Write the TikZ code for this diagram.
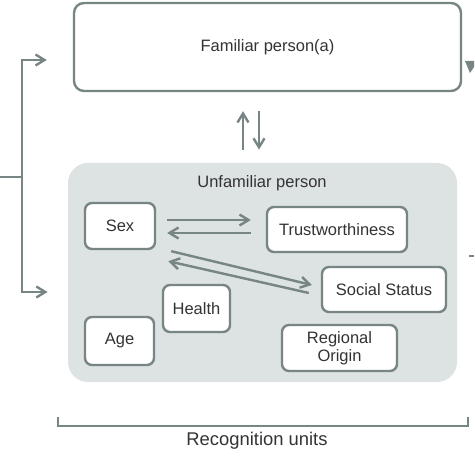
\documentclass[tikz,border=0pt]{standalone}
\usepackage{fontspec}
\setmainfont{Liberation Sans}
\usetikzlibrary{arrows.meta,calc}
\definecolor{grisLinea}{HTML}{778585}
\definecolor{grisFondo}{HTML}{DDE2E2}
\definecolor{grisTexto}{HTML}{333333}

\begin{document}
\begin{tikzpicture}[x=0.5pt,y=-0.5pt,>={Straight Barb[length=4.5pt,width=5.5pt]},
  caja/.style={draw=grisLinea,line width=1.2pt,fill=white,rounded corners=3.5pt,
    text=grisTexto,font=\fontsize{8.25}{10}\selectfont,inner sep=0pt,align=center},
  flecha/.style={grisLinea,line width=1.2pt,->}]
  \useasboundingbox (0,0) rectangle (474,474);
  % big boxes
  \node[caja,rounded corners=5pt,minimum width=193.5pt,minimum height=44pt] (fam) at (267.5,47) {Familiar person(a)};
  \node[fill=grisFondo,rounded corners=10pt,minimum width=194.5pt,minimum height=109.5pt] (unf) at (262.5,272.5) {};
  \node[text=grisTexto,font=\fontsize{8.25}{10}\selectfont] (unftit) at (262,183) {Unfamiliar person};
  % recognition units
  \node[caja,minimum width=35pt,minimum height=23pt] (sex) at (120,226) {Sex};
  \node[caja,minimum width=70pt,minimum height=22.5pt] (trust) at (337,229.5) {Trustworthiness};
  \node[caja,minimum width=62pt,minimum height=22.5pt] (social) at (384,289.5) {Social Status};
  \node[caja,minimum width=33.5pt,minimum height=23.5pt] (health) at (196.5,308.5) {Health};
  \node[caja,minimum width=34.5pt,minimum height=24pt] (age) at (119.5,341) {Age};
  \node[caja,minimum width=57.5pt,minimum height=23pt] (origin) at (339.5,348) {Regional\\[-1pt]Origin};
  % links between units
  \draw[flecha,shorten <=5.5pt,shorten >=7.5pt] ([yshift=3pt]sex.east) -- ([yshift=3pt]sex.east -| trust.west);
  \draw[flecha,shorten <=7.5pt,shorten >=5.5pt] ([yshift=-3.5pt]sex.east -| trust.west) -- ([yshift=-3.5pt]sex.east);
  \draw[flecha] ([xshift=7.5pt,yshift=-0.5pt]sex.south east) -- ([xshift=-4.5pt,yshift=2.25pt]social.west);
  \draw[flecha] ([xshift=-6pt,yshift=-1.75pt]social.west) -- ([xshift=6pt,yshift=-5.5pt]sex.south east);
  % familiar <-> unfamiliar
  \draw[flecha,shorten <=6.5pt,shorten >=9.5pt] ([xshift=-9.75pt]unf.north) -- ([xshift=-9.75pt]unf.north |- fam.south);
  \draw[flecha,shorten <=9.5pt,shorten >=6.5pt] ([xshift=-1.75pt]unf.north |- fam.south) -- ([xshift=-1.75pt]unf.north);
  % input on the left
  \coordinate (in) at (0,177);
  \coordinate (split) at (22,177);
  \draw[grisLinea,line width=1.2pt] (in) -- (split);
  \draw[flecha,shorten >=13pt] (split) |- ([yshift=-6.5pt]fam.west);
  \draw[flecha,shorten >=10pt] (split) |- ([yshift=-9.75pt]unf.west);
  % cut pieces on the right edge
  \fill[grisLinea] (465,61) -- (474,61) -- (474,67) -- (470,73) -- cycle;
  \draw[grisLinea,line width=1pt] (469,256) -- (474,256);
  % bracket
  \draw[grisLinea,line width=1.2pt] (58,417) |- (468,426) -- (468,417);
  \node[text=grisTexto,font=\fontsize{9.2}{11}\selectfont] (rec) at (257,441) {Recognition units};
\end{tikzpicture}
\end{document}
